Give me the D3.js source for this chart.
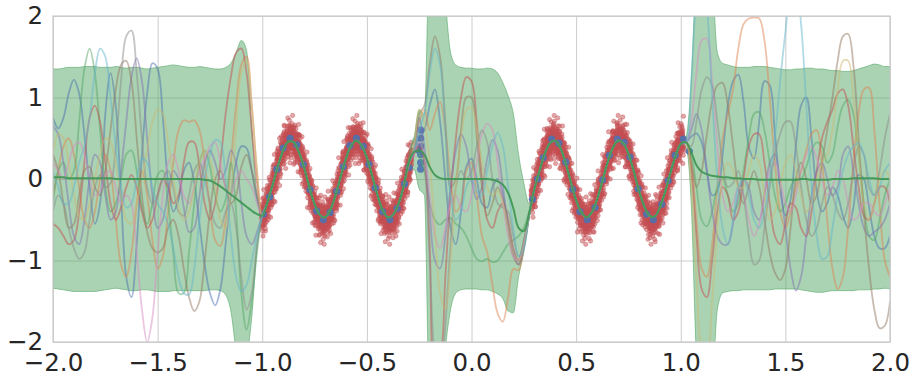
<!DOCTYPE html>
<html><head><meta charset="utf-8">
<script src="https://cdn.jsdelivr.net/npm/d3@7"></script>
<style>
html,body{margin:0;padding:0;background:#fff;}
svg{display:block;}
text{font-family:"DejaVu Sans",sans-serif;}
</style></head><body>
<svg id="c" width="917" height="383"></svg>
<script>
// ---------------- data ----------------
const xTicks = [-2, -1.5, -1, -0.5, 0, 0.5, 1, 1.5, 2];
const yTicks = [-2, -1, 0, 1, 2];
const gridStart = -2, gridStep = 0.025;   // abscissae of the curve arrays (161 samples)

// posterior mean
const meanY = [
 0.02,0.02,0.02,0.01,0.01,0.01,0.01,0.01,0.01,0.01,0.01,0.01,0.00,0.00,0.00,0.00,0.00,0.00,0.00,0.00,0.00,0.00,0.00,0.00,0.00,0.00,0.00,0.00,0.00,-0.01,-0.02,-0.05,-0.09,-0.14,-0.19,-0.24,-0.29,-0.34,-0.39,-0.43,-0.45,
 -0.28,-0.07,0.16,0.35,0.46,0.45,0.33,0.14,-0.10,-0.31,-0.44,-0.47,-0.38,-0.20,0.03,0.25,0.41,0.47,0.41,0.26,0.04,-0.19,-0.38,-0.47,-0.44,-0.31,-0.10,
 0.20,0.33,0.35,0.30,0.15,0.05,0.01,0.00,0.00,0.00,0.00,0.00,0.00,0.00,0.00,0.00,-0.01,-0.03,-0.07,-0.17,-0.36,-0.60,-0.64,-0.43,-0.13,
 0.10,0.31,0.44,0.47,0.38,0.19,-0.04,-0.26,-0.41,-0.47,-0.41,-0.25,-0.03,0.20,0.38,0.47,0.44,0.31,0.10,-0.14,-0.33,-0.45,-0.46,-0.35,-0.16,0.07,0.28,
 0.43,0.45,0.33,0.17,0.09,0.06,0.04,0.03,0.02,0.02,0.01,0.01,0.00,0.00,0.00,-0.01,-0.01,-0.01,-0.01,-0.01,-0.01,-0.01,-0.01,0.00,0.00,-0.01,-0.01,-0.01,-0.01,0.00,0.00,0.00,0.00,0.01,0.01,0.01,0.01,0.01,0.00,0.00,0.00
];
// confidence band
const bandUpper = [
 1.35,1.35,1.36,1.37,1.37,1.37,1.38,1.38,1.38,1.37,1.37,1.37,1.38,1.37,1.36,1.37,1.37,1.36,1.35,1.36,1.37,1.38,1.39,1.40,1.39,1.38,1.37,1.37,1.38,1.37,1.36,1.35,1.35,1.37,1.42,1.55,1.70,1.58,0.64,-0.20,-0.41,
 -0.24,-0.03,0.20,0.39,0.50,0.49,0.37,0.18,-0.06,-0.27,-0.40,-0.43,-0.34,-0.16,0.07,0.29,0.45,0.51,0.45,0.30,0.08,-0.15,-0.34,-0.43,-0.40,-0.27,-0.06,
 0.30,0.50,0.85,0.80,3.0,3.5,3.0,2.2,1.55,1.40,1.37,1.36,1.36,1.35,1.35,1.36,1.35,1.30,1.18,1.02,0.80,0.30,-0.05,-0.30,-0.09,
 0.14,0.35,0.48,0.51,0.42,0.23,0.00,-0.22,-0.37,-0.43,-0.37,-0.21,0.01,0.24,0.42,0.51,0.48,0.35,0.14,-0.10,-0.29,-0.41,-0.42,-0.31,-0.12,0.11,0.32,
 0.47,0.52,1.20,2.60,3.00,3.00,2.50,1.55,1.42,1.40,1.38,1.37,1.37,1.37,1.38,1.38,1.38,1.37,1.36,1.35,1.34,1.34,1.35,1.35,1.36,1.36,1.35,1.35,1.34,1.33,1.33,1.32,1.32,1.33,1.35,1.37,1.39,1.41,1.40,1.38,1.38
];
const bandLower = [
 -1.34,-1.35,-1.36,-1.37,-1.38,-1.38,-1.38,-1.38,-1.38,-1.37,-1.36,-1.35,-1.34,-1.35,-1.36,-1.37,-1.37,-1.36,-1.36,-1.37,-1.38,-1.38,-1.38,-1.37,-1.37,-1.37,-1.37,-1.37,-1.37,-1.37,-1.36,-1.36,-1.37,-1.42,-1.62,-2.10,-2.40,-2.20,-1.69,-0.85,-0.49,
 -0.32,-0.11,0.12,0.31,0.42,0.41,0.29,0.10,-0.14,-0.35,-0.48,-0.51,-0.42,-0.24,-0.01,0.21,0.37,0.43,0.37,0.22,0.00,-0.23,-0.42,-0.51,-0.48,-0.35,-0.14,
 0.08,0.12,-0.12,-0.20,-3.0,-3.5,-3.0,-2.1,-1.60,-1.40,-1.36,-1.35,-1.35,-1.35,-1.36,-1.36,-1.38,-1.41,-1.47,-1.62,-1.64,-1.20,-0.90,-0.50,-0.17,
 0.06,0.27,0.40,0.43,0.34,0.15,-0.08,-0.30,-0.45,-0.51,-0.45,-0.29,-0.07,0.16,0.34,0.43,0.40,0.27,0.06,-0.18,-0.37,-0.49,-0.50,-0.39,-0.20,0.03,0.24,
 0.39,0.38,-0.30,-2.20,-3.0,-3.0,-2.6,-1.6,-1.40,-1.38,-1.37,-1.37,-1.36,-1.36,-1.36,-1.36,-1.36,-1.36,-1.35,-1.35,-1.35,-1.35,-1.35,-1.36,-1.37,-1.38,-1.39,-1.39,-1.38,-1.37,-1.37,-1.37,-1.37,-1.37,-1.36,-1.36,-1.36,-1.35,-1.35,-1.34,-1.35
];

// posterior samples in the three gaps (x = -2..-1, -0.3..0.3, 1..2); they follow the mean where data constrain them
const leftStart = -2.0, midStart = -0.3, rightStart = 1.0;
const sampleLeft = [
 [0.75,0.62,0.75,1.05,1.22,1.05,0.55,-0.10,-0.55,-0.30,0.80,1.30,0.90,-0.20,-1.20,-1.45,-0.80,0.30,1.05,1.42,1.35,0.75,-0.05,-0.40,-0.25,0.10,0.20,-0.05,-0.55,-1.05,-1.40,-1.55,-1.35,-0.80,-0.20,0.20,0.40,0.38,0.10,-0.25,-0.45],
 [-0.20,0.10,0.40,0.50,0.30,-0.10,-0.50,-0.60,-0.40,0.00,0.30,0.10,-0.50,-1.05,-1.20,-0.90,-0.30,0.10,-0.20,-0.75,-1.10,-0.95,-0.40,0.20,0.60,0.72,0.70,0.72,0.60,0.20,-0.35,-0.75,-0.82,-0.50,0.20,0.90,1.40,1.50,0.90,0.10,-0.45],
 [-0.30,0.10,0.20,0.00,0.10,0.70,1.35,1.60,1.30,0.60,-0.10,-0.40,-0.30,0.00,0.30,0.35,0.10,-0.35,-0.55,-0.30,0.05,0.10,-0.30,-0.90,-1.40,-1.40,-0.90,-0.30,0.20,0.35,0.15,-0.20,-0.40,-0.25,0.20,-0.40,-1.40,-1.85,-1.50,-0.90,-0.45],
 [-0.55,-0.60,-0.70,-0.80,-0.75,-0.40,0.20,0.75,0.90,0.70,0.20,-0.30,-0.50,-0.35,-0.10,0.05,-0.10,-0.40,-0.60,-0.50,-0.20,0.00,-0.10,-0.30,-0.20,0.20,0.45,0.45,0.15,-0.30,-0.50,-0.30,0.20,0.80,1.25,1.55,1.60,1.30,0.60,-0.05,-0.45],
 [0.65,0.55,0.20,-0.30,-0.70,-0.80,-0.50,0.00,0.30,0.20,-0.20,-0.50,-0.40,0.10,0.70,1.25,1.48,1.20,0.50,-0.20,-0.60,-0.50,-0.15,0.10,0.00,-0.35,-0.65,-0.60,-0.20,0.20,0.35,0.20,0.00,0.10,0.35,0.20,-0.30,-0.70,-0.80,-0.65,-0.45],
 [0.30,0.10,-0.30,-0.60,-0.55,-0.20,0.10,0.15,-0.10,-0.20,0.10,0.60,1.10,1.40,1.45,1.20,0.50,-0.20,-0.65,-0.85,-0.90,-0.85,-0.60,-0.50,-0.70,-1.10,-1.45,-1.62,-1.50,-1.00,-0.40,0.00,0.10,-0.10,-0.30,-0.20,0.15,0.30,0.10,-0.20,-0.45],
 [0.20,0.10,0.00,0.20,0.40,0.45,0.30,0.00,-0.20,-0.15,0.05,0.10,-0.10,-0.30,-0.20,-0.30,-0.90,-1.60,-2.00,-1.70,-0.90,-0.20,0.20,0.30,0.10,-0.20,-0.30,-0.10,0.10,0.25,0.40,0.45,0.20,-0.10,-0.20,0.00,0.10,0.00,-0.10,-0.30,-0.45],
 [-0.40,-0.20,-0.30,-0.60,-0.85,-0.98,-0.90,-0.50,-0.10,0.05,-0.10,-0.05,0.40,1.20,1.75,1.82,1.30,0.50,-0.10,-0.30,-0.20,0.00,0.10,-0.10,-0.40,-0.45,-0.20,0.10,0.20,0.00,-0.30,-0.55,-0.60,-0.40,-0.30,-0.60,-1.20,-1.60,-1.40,-0.80,-0.45],
 [0.30,0.55,0.50,0.20,-0.20,-0.45,-0.50,-0.30,0.00,0.30,0.50,0.45,0.20,-0.20,-0.50,-0.55,-0.30,0.00,0.35,0.70,0.85,0.80,0.45,0.00,-0.35,-0.50,-0.40,-0.10,0.20,0.35,0.25,-0.10,-0.50,-0.60,-0.20,0.60,1.30,1.45,0.90,0.10,-0.45],
 [0.10,-0.10,-0.30,-0.30,-0.10,0.20,0.40,0.75,1.30,1.60,1.50,1.00,0.40,-0.10,-0.35,-0.30,0.00,0.25,0.20,-0.10,-0.30,-0.40,-0.55,-0.85,-1.20,-1.40,-1.42,-1.10,-0.50,0.00,0.30,0.48,0.45,0.00,-0.70,-1.20,-1.38,-1.30,-1.00,-0.70,-0.45]
];
const sampleMid = [
 [0.20,0.35,0.50,0.60,0.90,1.10,0.70,0.00,-0.60,-0.80,-0.40,0.15,0.25,0.00,-0.30,-0.35,-0.10,0.00,-0.20,-0.60,-0.90,-1.00,-0.75,-0.45,-0.13],
 [0.15,0.35,0.70,0.85,0.60,0.80,0.95,0.60,0.00,-0.40,-0.30,0.10,0.20,-0.20,-0.70,-0.90,-1.30,-1.65,-1.75,-1.45,-1.10,-1.12,-0.80,-0.45,-0.13],
 [0.25,0.50,0.30,0.10,-0.30,-0.50,-0.56,-0.50,-0.48,-0.55,-0.60,-0.70,-0.85,-0.98,-1.01,-0.98,-1.02,-1.00,-0.90,-0.80,-0.75,-0.70,-0.60,-0.40,-0.13],
 [0.20,0.30,0.40,0.20,-0.80,-2.30,-2.20,-1.20,-0.20,0.50,1.00,1.25,1.20,0.70,0.00,-0.50,-0.60,-0.40,-0.30,-0.50,-0.85,-1.00,-0.80,-0.45,-0.13],
 [0.20,0.30,0.75,0.40,-0.40,-1.00,-1.10,-0.70,-0.10,0.35,0.55,0.40,0.00,-0.25,-0.10,0.25,0.48,0.35,-0.10,-0.55,-0.90,-1.05,-0.85,-0.45,-0.13],
 [0.20,0.40,0.80,0.90,1.40,1.75,1.50,0.70,-0.10,0.00,0.60,1.00,1.00,0.50,-0.10,-0.45,-0.30,-0.10,-0.25,-0.60,-0.95,-1.05,-0.80,-0.45,-0.13],
 [0.20,0.30,0.45,0.30,-0.20,-0.70,-0.85,-0.60,-0.30,-0.20,-0.35,-0.40,-0.20,0.20,0.55,0.68,0.60,0.20,-0.30,-0.70,-0.95,-1.00,-0.80,-0.45,-0.13],
 [0.20,0.35,0.55,0.20,-1.00,-2.20,-2.50,-1.80,-0.80,-0.10,0.10,0.00,0.10,0.40,0.60,0.45,0.00,-0.30,-0.35,-0.40,-0.70,-0.95,-0.80,-0.45,-0.13],
 [0.20,0.40,0.85,0.70,0.20,-0.60,-1.40,-1.60,-1.00,-0.10,0.50,0.85,0.88,0.60,0.20,-0.10,-0.20,-0.15,-0.30,-0.60,-0.90,-1.00,-0.80,-0.45,-0.13],
 [0.20,0.35,0.60,0.80,1.30,1.60,1.40,0.60,-0.20,-0.50,-0.40,-0.10,0.00,-0.15,-0.20,0.10,0.40,0.57,0.40,-0.10,-0.60,-0.95,-0.85,-0.45,-0.13]
];
const sampleRight = [
 [0.43,0.45,0.52,0.56,0.45,0.10,-0.20,-0.15,0.30,0.90,1.20,1.28,0.95,0.40,0.25,0.70,1.20,1.15,0.55,-0.10,-0.45,-0.25,0.40,0.90,1.00,0.50,-0.15,-0.40,-0.30,-0.10,-0.20,-0.45,-0.60,-0.35,0.05,0.00,-0.35,-0.70,-0.85,-0.85,-0.70],
 [0.43,0.45,0.20,-0.50,-1.10,-1.20,-0.80,-0.10,0.50,0.80,1.10,1.60,1.90,1.97,1.98,1.97,1.70,1.00,0.20,-0.40,-0.60,-0.40,-0.10,0.10,0.35,0.55,0.60,0.20,-0.50,-1.10,-1.35,-1.20,-0.60,0.20,0.80,1.10,1.12,0.60,-0.30,-1.00,-1.20],
 [0.43,0.45,0.30,-0.10,-0.50,-0.58,-0.40,-0.10,0.00,-0.20,-0.40,-0.30,0.10,0.50,0.80,0.82,0.60,0.20,-0.20,-0.40,-0.30,-0.10,0.00,0.00,0.15,0.35,0.45,0.40,0.20,0.30,0.65,0.90,0.97,0.80,0.30,-0.30,-0.70,-0.75,-0.50,-0.20,0.00],
 [0.43,0.45,0.10,-0.70,-1.35,-1.45,-1.00,-0.40,-0.10,-0.20,-0.50,-0.40,0.00,0.40,0.55,0.55,0.20,-0.30,-0.70,-0.80,-0.55,-0.30,-0.35,-0.60,-0.70,-0.40,0.10,0.50,0.70,0.85,1.05,1.10,0.90,0.40,-0.10,-0.45,-0.50,-0.30,-0.10,-0.10,-0.30],
 [0.43,0.45,0.60,0.80,0.60,0.10,-0.40,-0.70,-0.80,-0.80,-0.55,-0.20,0.00,-0.10,-0.40,-0.50,-0.20,0.20,0.30,-0.10,-0.60,-1.10,-1.37,-1.20,-0.70,-0.20,0.10,0.20,0.00,-0.20,-0.10,0.30,0.40,0.10,-0.30,-0.60,-0.70,-0.65,-0.60,-0.50,-0.30],
 [0.43,0.45,0.20,-0.10,0.10,0.55,0.95,1.15,1.18,0.90,0.40,-0.10,-0.30,-0.10,0.10,-0.10,-0.50,-0.90,-1.15,-1.24,-1.10,-0.60,0.00,0.20,0.00,-0.30,-0.20,0.20,0.60,1.00,1.45,1.75,1.78,1.40,0.50,-0.40,-1.10,-1.60,-1.83,-1.80,-1.50],
 [0.43,0.45,0.70,1.30,1.70,1.72,1.20,0.40,-0.20,-0.40,-0.30,-0.10,-0.20,-0.50,-0.70,-0.55,-0.20,0.10,0.20,0.00,-0.30,-0.40,-0.20,0.10,0.30,0.40,0.25,0.00,-0.20,-0.10,0.10,0.00,-0.30,-0.50,-0.45,-0.30,-0.30,-0.40,-0.45,-0.30,-0.10],
 [0.43,0.45,0.40,0.70,1.10,1.25,1.15,0.70,0.20,-0.10,-0.05,0.10,-0.20,-0.70,-1.05,-1.00,-0.60,-0.10,0.30,0.55,0.70,0.70,0.40,-0.10,-0.50,-0.70,-0.60,-0.30,-0.10,-0.20,-0.40,-0.50,-0.30,0.10,0.40,0.30,-0.10,-0.20,0.10,0.50,0.80],
 [0.43,0.45,-0.10,-1.20,-2.10,-2.20,-1.50,-0.60,0.00,0.20,0.10,-0.10,-0.10,0.10,0.30,0.20,-0.20,-0.50,-0.40,-0.10,0.20,0.30,0.10,-0.20,-0.40,-0.30,0.00,0.20,0.30,0.60,1.10,1.45,1.45,1.00,0.30,-0.30,-0.50,-0.30,0.00,0.10,0.00],
 [0.43,0.45,1.20,2.20,2.50,2.10,1.00,0.00,-0.60,-0.80,-0.50,-0.10,0.00,-0.20,-0.50,-0.60,-0.40,0.00,0.50,1.20,1.80,2.30,2.40,1.90,0.90,-0.10,-0.70,-0.98,-0.95,-0.60,-0.20,0.10,0.30,0.40,0.44,0.30,0.00,-0.20,-0.10,0.10,0.20]
];
const sampleColors = ["#4C72B0","#DD8452","#55A868","#C44E52","#8172B3","#937860","#DA8BC3","#8C8C8C","#CCB974","#64B5CD"];

// observations (red): centre of the cloud every 0.01, plus the scatter around it
const redStep = 0.01;
const redStartA = -1.00;
const redCentersA = [-0.46,-0.41,-0.34,-0.26,-0.17,-0.07,0.02,0.12,0.22,0.30,0.38,0.43,0.47,0.50,0.50,0.48,0.44,0.39,0.32,0.24,0.14,0.05,-0.05,-0.15,-0.24,-0.33,-0.39,-0.45,-0.48,-0.50,-0.50,-0.47,-0.43,-0.37,-0.30,-0.21,-0.12,-0.02,0.08,0.18,0.27,0.35,0.41,0.46,0.49,0.50,0.49,0.46,0.41,0.35,0.27,0.18,0.09,-0.01,-0.11,-0.21,-0.29,-0.37,-0.43,-0.47,-0.49,-0.50,-0.48,-0.45,-0.40,-0.33,-0.25,-0.16,-0.06,0.04,0.14,0.23];
const redStartB = 0.29;
const redCentersB = [-0.23,-0.14,-0.04,0.06,0.16,0.25,0.33,0.40,0.45,0.48,0.50,0.49,0.47,0.43,0.37,0.29,0.21,0.11,0.01,-0.09,-0.18,-0.27,-0.35,-0.41,-0.46,-0.49,-0.50,-0.49,-0.46,-0.41,-0.35,-0.27,-0.18,-0.08,0.02,0.12,0.21,0.30,0.37,0.43,0.47,0.50,0.50,0.48,0.45,0.39,0.33,0.24,0.15,0.05,-0.05,-0.14,-0.24,-0.32,-0.39,-0.44,-0.48,-0.50,-0.50,-0.47,-0.43,-0.38,-0.30,-0.22,-0.12,-0.02,0.07,0.17,0.26,0.34,0.41,0.46,0.49];
const redPerX = 24;
const redResid = [0.02,-0.11,0.07,-0.03,0.15,-0.06,0.01,-0.18,0.09,-0.01,0.04,-0.09,0.12,-0.14,0.05,-0.02,0.22,-0.07,0.00,0.10,-0.12,0.03,-0.24,0.08,-0.04,0.13,-0.08,0.06,-0.16,0.01,0.18,-0.05,-0.10,0.11,-0.01,0.03,-0.20,0.14,-0.03,0.07,-0.13,0.28,-0.06,0.02,0.09,-0.15,0.04,-0.09,0.16,-0.02,0.06,-0.11,-0.30];
const redJitter = [0.000,0.003,-0.004,0.001,-0.002,0.005,-0.001,0.002,-0.005,0.004,-0.003,0.001,0.000,-0.002,0.003,-0.004,0.002,-0.001,0.005,-0.003,0.001,-0.005,0.004,-0.002,0.000,0.003,-0.001,0.002,-0.004,0.001,-0.003];

// inducing / training points (blue)
const blueX = [-0.995,-0.965,-0.93,-0.9,-0.867,-0.835,-0.804,-0.772,-0.74,-0.708,-0.676,-0.644,-0.613,-0.581,-0.55,-0.517,-0.49,-0.46,-0.425,-0.39,-0.355,-0.32,-0.298,-0.256,
 -0.243,-0.243,-0.243,-0.243,-0.243,-0.243,
 0.291,0.316,0.343,0.383,0.417,0.45,0.484,0.518,0.553,0.59,0.627,0.659,0.697,0.73,0.757,0.797,0.837,0.869,0.909,0.94,0.973,1.012,1.041];
const blueY = [-0.43,-0.22,0.12,0.38,0.50,0.42,0.18,-0.13,-0.39,-0.50,-0.41,-0.15,0.15,0.41,0.50,0.40,0.18,-0.11,-0.40,-0.50,-0.36,-0.06,0.14,0.36,
 0.60,0.50,0.40,0.30,0.20,0.12,
 -0.25,0.00,0.26,0.49,0.44,0.21,-0.13,-0.40,-0.50,-0.35,-0.01,0.29,0.49,0.45,0.27,-0.12,-0.43,-0.50,-0.31,-0.02,0.29,0.49,0.34];

// ---------------- drawing ----------------
const L = 53, R = 890, T = 16, B = 342;
const x = d3.scaleLinear().domain([-2, 2]).range([L, R]);
const y = d3.scaleLinear().domain([-2, 2]).range([B, T]);
const svg = d3.select("#c");

const xGrid = meanY.map((_, i) => gridStart + i * gridStep);
const idxOf = v => Math.round((v - gridStart) / gridStep);

svg.append("defs").append("clipPath").attr("id", "plot")
  .append("rect").attr("x", L).attr("y", T).attr("width", R - L).attr("height", B - T);

// grid + tick labels
const gx = svg.append("g").attr("transform", `translate(0,${B})`)
  .call(d3.axisBottom(x).tickValues(xTicks).tickFormat(d3.format(".1f")).tickSize(-(B - T)).tickPadding(11));
const gy = svg.append("g").attr("transform", `translate(${L},0)`)
  .call(d3.axisLeft(y).tickValues(yTicks).tickFormat(d3.format("d")).tickSize(-(R - L)).tickPadding(10));
[gx, gy].forEach(g => {
  g.select(".domain").remove();
  g.selectAll(".tick line").attr("stroke", "#cccccc").attr("stroke-width", 1);
  g.selectAll(".tick text").attr("fill", "#262626").style("font-size", "24.5px")
    .style("font-family", '"DejaVu Sans", sans-serif');
});
gx.selectAll(".tick text").attr("dy", "0.74em");

const plot = svg.append("g").attr("clip-path", "url(#plot)");

// band
const area = d3.area().curve(d3.curveMonotoneX)
  .x(i => x(xGrid[i])).y0(i => y(bandLower[i])).y1(i => y(bandUpper[i]));
plot.append("path").datum(d3.range(meanY.length)).attr("d", area)
  .attr("fill", "#55A868").attr("fill-opacity", 0.5)
  .attr("stroke", "#55A868").attr("stroke-opacity", 0.6).attr("stroke-width", 1);

// red observations
const redPts = [];
function addRed(start, centers) {
  centers.forEach((c, k) => {
    const xc = start + k * redStep;
    for (let j = 0; j < redPerX; j++) {
      const n = k * redPerX + j;
      redPts.push([xc + redJitter[n % redJitter.length], c + redResid[n % redResid.length]]);
    }
  });
}
addRed(redStartA, redCentersA);
addRed(redStartB, redCentersB);
plot.append("g").selectAll("circle").data(redPts).join("circle")
  .attr("cx", d => x(d[0])).attr("cy", d => y(d[1])).attr("r", 2.2)
  .attr("fill", "#C44E52").attr("fill-opacity", 0.5)
  .attr("stroke", "#C44E52").attr("stroke-opacity", 0.6).attr("stroke-width", 0.6);

// blue points
plot.append("g").selectAll("circle").data(blueX.map((v, i) => [v, blueY[i]])).join("circle")
  .attr("cx", d => x(d[0])).attr("cy", d => y(d[1])).attr("r", 3.6)
  .attr("fill", "#4C72B0").attr("fill-opacity", 0.9);

const line = d3.line().curve(d3.curveCatmullRom).x(d => x(d[0])).y(d => y(d[1]));

// samples
const iL = idxOf(leftStart), iM = idxOf(midStart), iR = idxOf(rightStart);
sampleLeft.forEach((left, k) => {
  const vals = meanY.slice();
  left.forEach((v, j) => vals[iL + j] = v);
  sampleMid[k].forEach((v, j) => vals[iM + j] = v);
  sampleRight[k].forEach((v, j) => vals[iR + j] = v);
  plot.append("path").datum(vals.map((v, i) => [xGrid[i], v])).attr("d", line)
    .attr("fill", "none").attr("stroke", sampleColors[k])
    .attr("stroke-opacity", 0.5).attr("stroke-width", 1.8);
});

// mean
plot.append("path").datum(meanY.map((v, i) => [xGrid[i], v])).attr("d", line)
  .attr("fill", "none").attr("stroke", "#3d9651").attr("stroke-opacity", 0.9).attr("stroke-width", 2);

// spines
svg.append("rect").attr("x", L).attr("y", T).attr("width", R - L).attr("height", B - T)
  .attr("fill", "none").attr("stroke", "#cccccc").attr("stroke-width", 1.25);
</script></body></html>
